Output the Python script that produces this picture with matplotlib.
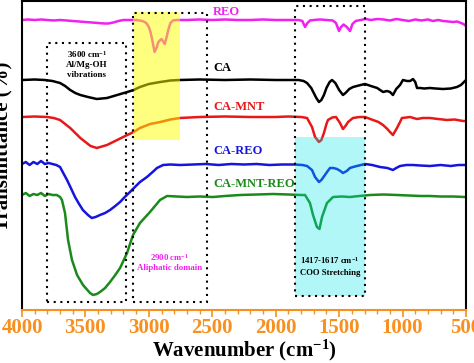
import numpy as np
import matplotlib
matplotlib.use('Agg')
import matplotlib.pyplot as plt
from matplotlib.patches import Rectangle

plt.rcParams['font.family'] = ['Liberation Serif', 'DejaVu Serif']
plt.rcParams['font.weight'] = 'bold'
plt.rcParams['mathtext.fontset'] = 'custom'
plt.rcParams['mathtext.rm'] = 'Liberation Serif:bold'
plt.rcParams['mathtext.bf'] = 'Liberation Serif:bold'
plt.rcParams['mathtext.default'] = 'bf'

# spectra (wavenumber in cm-1, offset transmittance in a.u.)
reo_w = [4000, 3950, 3900, 3850, 3800, 3750, 3700, 3650, 3600, 3550, 3500, 3450, 3400, 3350, 3320,
         3280, 3240, 3200, 3150, 3100, 3050, 3020, 3000, 2985, 2970, 2955, 2940, 2925, 2910, 2900,
         2890, 2875, 2860, 2845, 2830, 2810, 2780, 2700, 2600, 2500, 2400, 2300, 2200, 2100, 2000,
         1900, 1820, 1790, 1769, 1750, 1730, 1700, 1650, 1600, 1550, 1525, 1501, 1485, 1465, 1440,
         1414, 1395, 1370, 1330, 1290, 1250, 1200, 1150, 1100, 1050, 1000, 950, 900, 850, 800,
         760, 720, 680, 640, 600, 570, 540, 520, 500]
reo_t = [290, 290.5, 290, 290.5, 290, 289.5, 290, 289.5, 289, 288.5, 288, 287.5, 287, 286.5, 286.5,
         287.5, 289, 290, 290, 290, 289, 287, 283, 277, 268, 258, 262, 268, 270, 271,
         269, 266, 273, 281, 287, 289.5, 290, 290, 290.5, 290, 290.5, 290, 290, 290.5, 290,
         290, 290, 289, 283, 287, 289.5, 290, 290.5, 290, 289.5, 287, 279, 283, 285.5, 283,
         279, 286, 289, 290, 291, 290, 291, 290.5, 289.5, 291, 290, 289, 290.5, 289.5, 290.5,
         289, 290, 289, 288.5, 288, 288.5, 287, 286, 284]

ca_w = [4000, 3900, 3820, 3760, 3700, 3660, 3620, 3580, 3540, 3480, 3410, 3330, 3250, 3170, 3120,
        3070, 3000, 2910, 2830, 2755, 2600, 2400, 2200, 2000, 1900, 1820, 1780, 1753, 1720, 1700,
        1680, 1659, 1640, 1620, 1600, 1575, 1556, 1530, 1500, 1470, 1450, 1420, 1390, 1360, 1330,
        1296, 1250, 1200, 1154, 1123, 1099, 1076, 1050, 1020, 997, 965, 940, 918, 900, 886,
        860, 830, 784, 740, 681, 620, 571, 540, 508, 500]
ca_t = [230, 230.5, 230, 229, 227, 224, 220, 217, 215, 213, 211, 212, 215, 218, 220,
        223, 226, 228, 229.5, 230, 230.5, 230, 230.5, 230, 230, 230, 229, 227, 222, 217,
        212, 208, 210, 215, 222, 228, 230, 227, 220, 215, 217, 221, 223, 224, 225,
        226, 224, 222, 218, 219, 218, 215, 221, 225, 230, 229, 229, 231, 228, 222,
        222, 221.5, 222, 221.5, 221, 221.5, 223, 225, 229, 230]

camnt_w = [4000, 3900, 3800, 3750, 3700, 3660, 3620, 3580, 3540, 3500, 3460, 3410, 3330, 3250, 3170,
           3120, 3070, 2990, 2910, 2830, 2755, 2600, 2400, 2200, 2000, 1900, 1800, 1753, 1714, 1690,
           1659, 1640, 1620, 1600, 1588, 1555, 1525, 1493, 1470, 1450, 1430, 1391, 1340, 1296, 1233,
           1190, 1154, 1120, 1099, 1076, 1044, 1020, 1005, 970, 942, 886, 840, 784, 720, 650,
           590, 524, 500]
camnt_t = [193, 193.5, 193, 192, 190, 186, 182, 177, 172, 168, 164, 162, 165, 170, 175,
           178, 182, 186, 188, 190.5, 192, 193, 193.5, 193, 193, 193.5, 193, 192, 183, 173,
           168, 170, 177, 186, 190, 192.5, 193, 187, 181, 184, 188, 192, 193, 193, 190,
           188, 185, 181, 178, 175, 182, 188, 192, 192.5, 193, 191, 192, 192, 191, 190,
           190.5, 189, 189]

careo_w = [4000, 3970, 3940, 3910, 3880, 3850, 3820, 3790, 3760, 3730, 3700, 3675, 3645, 3615, 3582,
           3550, 3520, 3480, 3450, 3420, 3385, 3345, 3306, 3265, 3227, 3190, 3149, 3110, 3070, 3015,
           2970, 2936, 2888, 2830, 2755, 2650, 2550, 2450, 2350, 2250, 2150, 2050, 1950, 1850, 1790,
           1753, 1714, 1690, 1659, 1640, 1612, 1590, 1572, 1545, 1517, 1490, 1470, 1440, 1415, 1390,
           1360, 1296, 1240, 1178, 1120, 1076, 1050, 1020, 970, 918, 860, 784, 700, 620, 560,
           524, 500]
careo_t = [146, 148, 145, 148, 146, 149, 146, 147, 146, 145, 143, 137, 130, 122, 113,
           106, 100, 95, 92, 93, 95, 97, 100, 104, 108, 113, 118, 123, 128, 133,
           138, 142, 145, 145.5, 145, 145.5, 146, 145, 146, 145.5, 146, 145, 145.5, 145.5, 145,
           144, 140, 133, 128, 130, 135, 139, 142, 142, 141, 139, 137, 139, 142, 143,
           144, 146, 145, 143, 142, 140, 142, 144, 145, 145, 144.5, 144, 145, 144, 145,
           145, 145]

camntreo_w = [4000, 3970, 3940, 3910, 3880, 3850, 3820, 3790, 3760, 3726, 3700, 3685, 3661, 3637, 3606,
              3566, 3519, 3464, 3440, 3410, 3385, 3345, 3306, 3265, 3227, 3172, 3125, 3070, 2991, 2912,
              2857, 2780, 2700, 2600, 2494, 2400, 2281, 2150, 2021, 1900, 1800, 1769, 1730, 1706, 1675,
              1655, 1635, 1596, 1548, 1480, 1415, 1340, 1257, 1150, 1044, 950, 860, 784, 700, 600,
              508, 500]
camntreo_t = [115, 117, 114, 116, 115, 117, 114, 116, 115, 115, 113, 110, 97, 70, 50,
              35, 25, 17, 15, 16, 18, 22, 28, 35, 42, 57, 75, 87, 98, 110,
              114, 113.5, 113, 113.5, 113, 114, 115, 115.5, 116, 115.5, 115, 115, 107, 95, 83,
              81, 93, 107, 113, 113.5, 113, 114, 115, 115.5, 115, 114.5, 114, 114, 113.5, 113.5,
              113, 113]

series = [
    (reo_w, reo_t, '#F020F0', 'REO', 298),
    (ca_w, ca_t, 'black', 'CA', 242),
    (camnt_w, camnt_t, '#E81818', 'CA-MNT', 203),
    (careo_w, careo_t, '#1515E0', 'CA-REO', 159),
    (camntreo_w, camntreo_t, '#1A8A1A', 'CA-MNT-REO', 126),
]

ticks = [4000, 3500, 3000, 2500, 2000, 1500, 1000, 500]
orange = '#F7901E'

fig = plt.figure(figsize=(4.74, 3.63), dpi=100)
ax = fig.add_axes([22/474, 1 - 310/363, 444/474, 309/363])

for w, t, c, name, ly in series:
    ax.plot(w, t, color=c, lw=1.8)
    ax.text(2494, ly, name, color=c, fontsize=9, fontweight='bold', ha='left', va='center')

# highlighted regions
ax.add_patch(Rectangle((3125, 170), 2755 - 3125, 128, facecolor='#FFFF00', alpha=0.5,
                       edgecolor='none', zorder=3))
ax.add_patch(Rectangle((1848, 14), 1296 - 1848, 159, facecolor='#00E5E5', alpha=0.3,
                       edgecolor='none', zorder=3))

dots = dict(fill=False, edgecolor='black', lw=1.5, linestyle=(0, (1, 2.2)), zorder=4)
ax.add_patch(Rectangle((3803, 8), 3180 - 3803, 259, **dots))
ax.add_patch(Rectangle((3125, 8), 2542 - 3125, 289, **dots))
ax.add_patch(Rectangle((1848, 14), 1296 - 1848, 290, **dots))

ax.text(3490, 246, '3600 cm$^{-1}$\nAl/Mg-OH\nvibrations', fontsize=6.5, ha='center', va='center',
        linespacing=1.3, zorder=5)
ax.text(2833, 48, '2900 cm$^{-1}$\nAliphatic domain', fontsize=6.3, color='#F020F0', ha='center',
        va='center', linespacing=1.3, zorder=5)
ax.text(1572, 44, '1417-1617 cm$^{-1}$\nCOO Stretching', fontsize=6.3, ha='center', va='center',
        linespacing=1.4, zorder=5)

ax.set_xlim(4000, 500)
ax.set_ylim(0, 309)
ax.set_xticks(ticks)
ax.set_xticks(np.arange(500, 4001, 100), minor=True)
ax.set_yticks([])
ax.tick_params(axis='x', which='major', direction='out', length=5, width=1.2, color=orange,
               labelcolor=orange, labelsize=15, pad=0.5)
ax.tick_params(axis='x', which='minor', direction='out', length=3, width=1, color=orange)
for lab in ax.get_xticklabels():
    lab.set_fontweight('bold')
ax.spines['bottom'].set_color(orange)
ax.spines['bottom'].set_linewidth(1.5)
for s in ['left', 'right', 'top']:
    ax.spines[s].set_linewidth(1.5)

ax.set_xlabel('Wavenumber (cm$^{-1}$)', fontsize=15, fontweight='bold', labelpad=0)
fig.text(12/474, 0.598, 'Transmittance (%)', rotation=90, fontsize=15, fontweight='bold',
         ha='right', va='center')

fig.savefig('out.png', dpi=100)
